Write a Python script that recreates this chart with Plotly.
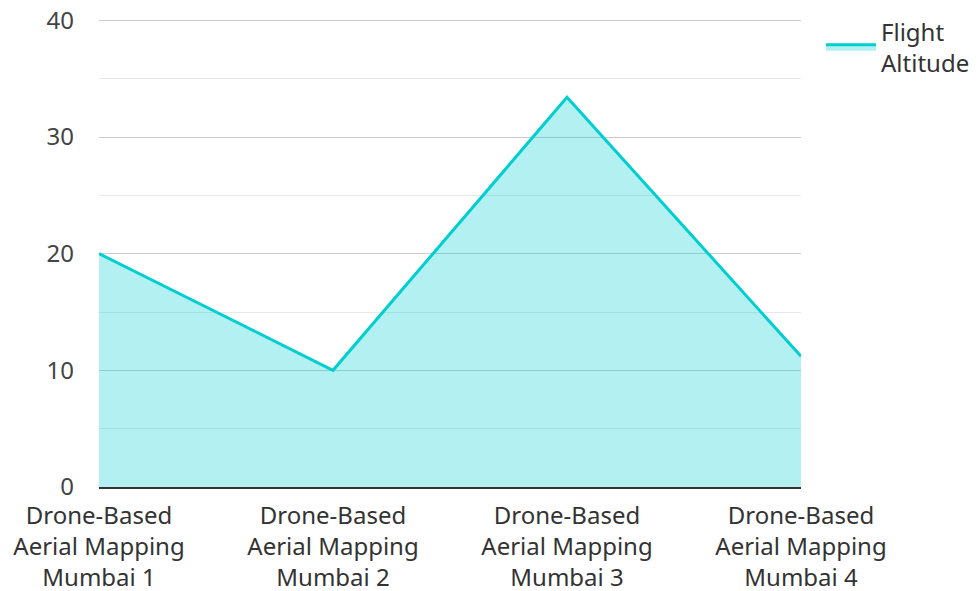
import plotly.graph_objects as go

categories = ["Drone-Based<br>Aerial Mapping<br>Mumbai 1", "Drone-Based<br>Aerial Mapping<br>Mumbai 2",
              "Drone-Based<br>Aerial Mapping<br>Mumbai 3", "Drone-Based<br>Aerial Mapping<br>Mumbai 4"]
altitude = [20.0, 10.0, 33.4, 11.2]
series_name = "Flight<br>Altitude"

fig = go.Figure()
fig.add_trace(go.Scatter(
    x=list(range(len(categories))), y=altitude, name=series_name,
    mode="lines", line=dict(color="#00CED1", width=3),
    fill="tozeroy", fillcolor="rgba(0,206,209,0.3)",
))
fig.update_layout(
    width=979, height=591,
    margin=dict(l=91, r=186, t=10, b=112, autoexpand=False),
    paper_bgcolor="white", plot_bgcolor="white",
    font=dict(family="Noto Sans", size=24, color="#444"),
    showlegend=True,
    legend=dict(x=1.0285, y=1.019, xanchor="left", yanchor="top", itemwidth=50,
                font=dict(size=24, color="#333")),
    xaxis=dict(tickmode="array", tickvals=list(range(len(categories))), ticktext=categories,
               range=[0, 3], showgrid=False, zeroline=False, showline=True,
               linecolor="#333", linewidth=2, ticks="", ticklabelstandoff=6,
               tickfont=dict(size=24, color="#333")),
    yaxis=dict(range=[0, 40.2], tickmode="array", tickvals=[0, 10, 20, 30, 40],
               showgrid=True, gridcolor="#cccccc", gridwidth=1,
               zeroline=False, showline=False, ticks="", ticklabelstandoff=24,
               ticklabeloverflow="allow",
               tickfont=dict(size=24, color="#444"),
               minor=dict(tickmode="array", tickvals=[5, 15, 25, 35], showgrid=True,
                          gridcolor="#e8e8e8", gridwidth=1)),
)
fig.write_html("out.html")
